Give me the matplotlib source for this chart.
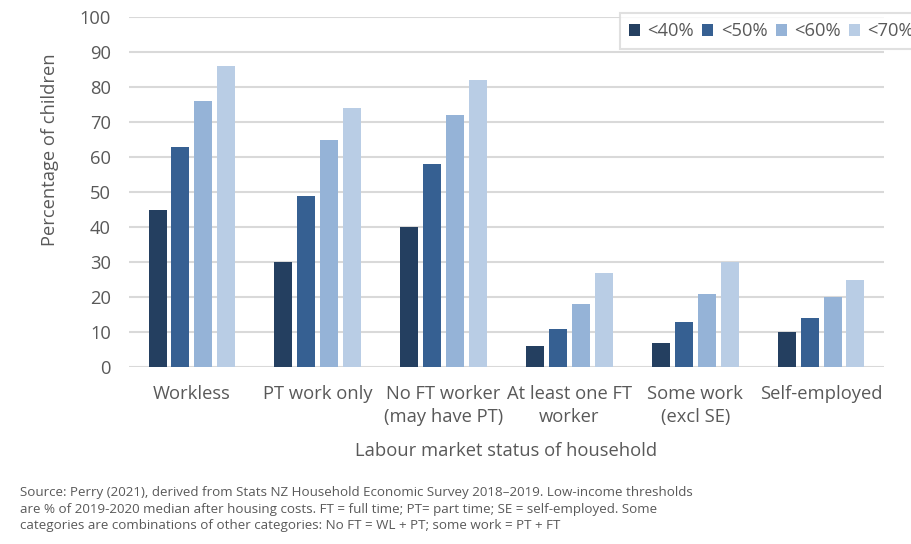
import matplotlib
matplotlib.use("Agg")
import matplotlib.pyplot as plt
import numpy as np

categories = ["Workless", "PT work only", "No FT worker\n(may have PT)",
              "At least one FT\nworker", "Some work\n(excl SE)", "Self-employed"]
series_names = ["<40%", "<50%", "<60%", "<70%"]
v40 = [45, 30, 40, 6, 7, 10]
v50 = [63, 49, 58, 11, 13, 14]
v60 = [76, 65, 72, 18, 21, 20]
v70 = [86, 74, 82, 27, 30, 25]
yticks = [0, 10, 20, 30, 40, 50, 60, 70, 80, 90, 100]
colors = ["#243F60", "#366092", "#95B3D7", "#B9CDE5"]
footnote = ("Source: Perry (2021), derived from Stats NZ Household Economic Survey 2018\u20132019. Low-income thresholds\n"
            "are % of 2019-2020 median after housing costs. FT = full time; PT= part time; SE = self-employed. Some\n"
            "categories are combinations of other categories: No FT = WL + PT; some work = PT + FT")

plt.rcParams['font.family'] = ['Open Sans', 'DejaVu Sans']
txt = "#595959"

fig = plt.figure(figsize=(9.12, 5.44), dpi=100)
ax = fig.add_axes([129/912, 1-367/544, (884-129)/912, 350/544])

x = np.arange(len(categories))
w = 0.143
step = 0.182
offsets = (np.arange(4) - 1.5) * step
for i, vals in enumerate([v40, v50, v60, v70]):
    ax.bar(x + offsets[i], vals, width=w, color=colors[i], label=series_names[i], zorder=3)

ax.set_xlim(-0.5, len(categories) - 0.5)
ax.set_ylim(0, 100)
ax.set_yticks(yticks)
ax.yaxis.grid(True, color="#D9D9D9", linewidth=1.5, zorder=0)
ax.set_axisbelow(True)
for s in ax.spines.values():
    s.set_visible(False)
ax.tick_params(axis='both', length=0, colors=txt, labelsize=13.2)
ax.tick_params(axis='y', pad=13)
ax.tick_params(axis='x', pad=13)
ax.set_xticks(x)
ax.set_xticklabels(categories, color=txt, linespacing=1.38)
ax.set_ylabel("Percentage of children", color=txt, fontsize=13.2, labelpad=15)
ax.yaxis.label.set_y(0.62)
ax.set_xlabel("Labour market status of household", color=txt, fontsize=13.2, labelpad=11)

leg = fig.legend(*ax.get_legend_handles_labels(), loc='upper left',
                 bbox_to_anchor=(620/912, 1-13/544), bbox_transform=fig.transFigure,
                 borderaxespad=0, ncol=4, frameon=True,
                 fontsize=13.2, handlelength=0.6, handleheight=0.6, handletextpad=0.4,
                 columnspacing=0.45, borderpad=0.5, fancybox=False, labelcolor=txt)
leg.get_frame().set_edgecolor("#D9D9D9")
leg.get_frame().set_linewidth(1.5)

fig.text(20/912, 1-486/544, footnote, ha='left', va='top', fontsize=9.6, color=txt, linespacing=1.35)

fig.savefig("out.png", dpi=100)
